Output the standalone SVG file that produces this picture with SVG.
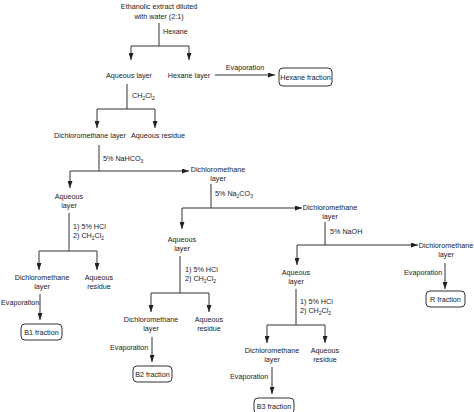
<svg xmlns="http://www.w3.org/2000/svg" width="474" height="412" viewBox="0 0 474 412">
<defs>
<style>
text{font-family:"Liberation Sans",Arial,sans-serif;font-size:7.2px;fill:#1a1a1a}
.c{text-anchor:middle}
.ln{fill:none;stroke:#333;stroke-width:1}
.ar{fill:none;stroke:#333;stroke-width:1;marker-end:url(#ah)}
.box{fill:#fff;stroke:#333;stroke-width:1}
.s{font-size:5px}
</style>
<marker id="ah" markerWidth="7" markerHeight="5" refX="7" refY="2.5" orient="auto" markerUnits="userSpaceOnUse">
<path d="M0,0 L7,2.5 L0,5 Z" fill="#222"/>
</marker>
</defs>
<rect width="474" height="412" fill="#fff"/>
<g id="connectors">
<path class="ln" d="M159,23 V46 M131,46 H189"/>
<path class="ar" d="M131,46 V60"/>
<path class="ar" d="M189,46 V60"/>
<path class="ar" d="M215,75 H275"/>
<path class="ln" d="M127,84 V109 M97,109 H155"/>
<path class="ar" d="M97,109 V128"/>
<path class="ar" d="M155,109 V128"/>
<path class="ln" d="M99,145 V171"/>
<path class="ar" d="M70,171 H189"/>
<path class="ar" d="M70,171 V188"/>
<path class="ln" d="M211,184 V208"/>
<path class="ar" d="M182,208 H302"/>
<path class="ar" d="M182,208 V229"/>
<path class="ln" d="M325,222 V245"/>
<path class="ar" d="M297,245 H418"/>
<path class="ar" d="M297,245 V265"/>
<path class="ln" d="M69,213 V251 M39,251 H97"/>
<path class="ar" d="M39,251 V270"/>
<path class="ar" d="M97,251 V270"/>
<path class="ar" d="M40,294 V320"/>
<path class="ln" d="M180,256 V293 M151,293 H209"/>
<path class="ar" d="M151,293 V312"/>
<path class="ar" d="M209,293 V312"/>
<path class="ar" d="M152,337 V362"/>
<path class="ln" d="M296,289 V325 M267,325 H325"/>
<path class="ar" d="M267,325 V343"/>
<path class="ar" d="M325,325 V343"/>
<path class="ar" d="M272,367 V394"/>
<path class="ar" d="M445,263 V289"/>
</g>
<g id="edge-labels">
<text x="163" y="34">Hexane</text>
<text class="c" x="245" y="70">Evaporation</text>
<text x="132" y="98">CH<tspan class="s" dy="1.5">2</tspan><tspan dy="-1.5">Cl</tspan><tspan class="s" dy="1.5">2</tspan></text>
<text x="103" y="161">5% NaHCO<tspan class="s" dy="1.5">3</tspan></text>
<text x="215" y="196">5% Na<tspan class="s" dy="1.5">2</tspan><tspan dy="-1.5">CO</tspan><tspan class="s" dy="1.5">3</tspan></text>
<text x="330" y="234">5% NaOH</text>
<text x="73" y="229">1) 5% HCl</text>
<text x="73" y="238">2) CH<tspan class="s" dy="1.5">2</tspan><tspan dy="-1.5">Cl</tspan><tspan class="s" dy="1.5">2</tspan></text>
<text x="185" y="272">1) 5% HCl</text>
<text x="185" y="281">2) CH<tspan class="s" dy="1.5">2</tspan><tspan dy="-1.5">Cl</tspan><tspan class="s" dy="1.5">2</tspan></text>
<text x="300" y="304">1) 5% HCl</text>
<text x="300" y="313">2) CH<tspan class="s" dy="1.5">2</tspan><tspan dy="-1.5">Cl</tspan><tspan class="s" dy="1.5">2</tspan></text>
<text x="1" y="305">Evaporation</text>
<text x="110" y="350">Evaporation</text>
<text x="230" y="379">Evaporation</text>
<text x="404" y="275">Evaporation</text>
</g>
<g id="start"><text class="c" x="159" y="9">Ethanolic extract diluted</text><text class="c" x="159" y="19">with water (2:1)</text></g>
<g id="aqueous1"><text class="c" x="129" y="78">Aqueous layer</text></g>
<g id="hexane-layer"><text class="c" x="189" y="78">Hexane layer</text></g>
<g id="hexane-fraction"><rect class="box" x="279" y="68" width="53" height="18" rx="4"/><text class="c" x="305.5" y="79.5">Hexane fraction</text></g>
<g id="dcm1"><text class="c" x="90" y="138">Dichloromethane layer</text></g>
<g id="residue1"><text class="c" x="158" y="138">Aqueous residue</text></g>
<g id="dcm2"><text class="c" x="218" y="172">Dichloromethane</text><text class="c" x="218" y="181">layer</text></g>
<g id="aqueous2"><text class="c" x="69" y="199">Aqueous</text><text class="c" x="69" y="208">layer</text></g>
<g id="dcm3"><text class="c" x="330" y="210">Dichloromethane</text><text class="c" x="330" y="219">layer</text></g>
<g id="aqueous3"><text class="c" x="182" y="242">Aqueous</text><text class="c" x="182" y="251">layer</text></g>
<g id="dcm4"><text class="c" x="446" y="248">Dichloromethane</text><text class="c" x="446" y="257">layer</text></g>
<g id="aqueous4"><text class="c" x="296" y="275">Aqueous</text><text class="c" x="296" y="284">layer</text></g>
<g id="dcm-b1"><text class="c" x="42" y="280">Dichloromethane</text><text class="c" x="42" y="289">layer</text></g>
<g id="residue-b1"><text class="c" x="99" y="280">Aqueous</text><text class="c" x="99" y="289">residue</text></g>
<g id="b1"><rect class="box" x="21" y="324" width="41" height="16" rx="4"/><text class="c" x="41.5" y="334.5">B1 fraction</text></g>
<g id="dcm-b2"><text class="c" x="151" y="322">Dichloromethane</text><text class="c" x="151" y="331">layer</text></g>
<g id="residue-b2"><text class="c" x="209" y="322">Aqueous</text><text class="c" x="209" y="331">residue</text></g>
<g id="b2"><rect class="box" x="133" y="366" width="39" height="16" rx="4"/><text class="c" x="152.5" y="376.5">B2 fraction</text></g>
<g id="dcm-b3"><text class="c" x="272" y="353">Dichloromethane</text><text class="c" x="272" y="362">layer</text></g>
<g id="residue-b3"><text class="c" x="325" y="353">Aqueous</text><text class="c" x="325" y="362">residue</text></g>
<g id="b3"><rect class="box" x="254" y="398" width="40" height="16" rx="4"/><text class="c" x="274" y="408.5">B3 fraction</text></g>
<g id="r"><rect class="box" x="426" y="291" width="39" height="16" rx="4"/><text class="c" x="445.5" y="301.5">R fraction</text></g>
</svg>
